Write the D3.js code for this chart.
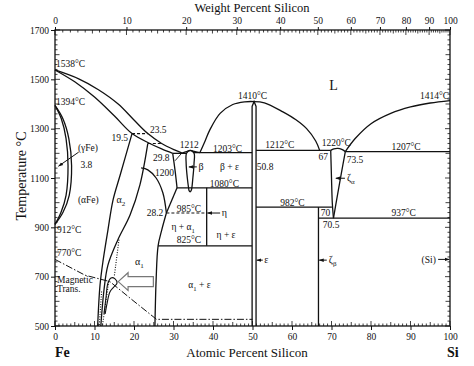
<!DOCTYPE html>
<html><head><meta charset="utf-8">
<script src="https://cdn.jsdelivr.net/npm/d3@7"></script>
<style>
body{margin:0;background:#fff;}
svg text{font-family:"Liberation Serif","Times New Roman",serif;fill:#111;}
</style></head><body>
<svg id="c" width="474" height="366"></svg>
<script>
// ---------- data (at% Si, °C) ----------
const atTicks = [0,10,20,30,40,50,60,70,80,90,100];
const wtTicks = [0,10,20,30,40,50,60,70,80,90,100];
const tempTicks = [500,700,900,1100,1300,1500,1700];

const liquidusFe = [[0,1538],[6,1502],[11,1458],[16,1400],[20,1335],[23.5,1280],[27,1240],[30.4,1213],[32.2,1201]];
const solidusFe = [[0,1538],[5,1490],[10,1428],[15,1352],[19.5,1280],[24,1240],[27,1218],[29.8,1200]];
const gammaOuter = [[0,1394],[2,1340],[3.5,1260],[4.2,1150],[3.6,1030],[2,960],[0,912]];
const gammaInner = [[0,1394],[1.6,1340],[2.8,1260],[3.3,1150],[2.8,1030],[1.5,960],[0,912]];
const boundaryA = [[19.5,1280],[16.5,1112],[14.7,1011],[13.4,889],[12.2,768],[11.4,666],[10.8,500]];
const boundaryB = [[23.5,1240],[21.5,1072],[19,950],[15.9,849],[13.4,747],[12.4,646],[11.6,500]];
const alpha1Dome = [[21.8,1141],[23.5,1133],[25.6,1100],[27.3,1040],[28.2,958]];
const alpha1Right = [[28.2,958],[27,888],[26.1,825],[25.6,686],[25.3,500]];
const alphaSolvus = [[29.8,1200],[30.4,1130],[30.9,1060]];
const alphaEta = [[30.9,1060],[28.2,958]];
const betaLens = [[33.9,1050],[33.5,1100],[33.2,1160],[33.3,1200],[34.2,1212],[35.2,1200],[35.2,1160],[34.9,1100],[34.5,1050],[34.2,1044],[33.9,1050]];
const liquidusBetaL = [[32.2,1201],[33.3,1207],[34.2,1212]];
const liquidusBetaR = [[34.2,1212],[35.5,1207],[36.7,1203]];
const liquidusEpsLeft = [[36.7,1203],[38,1250],[39.2,1295],[41.8,1362],[45,1398],[48,1409],[50.4,1410]];
const liquidusEpsRight = [[50.4,1410],[53,1405],[57.7,1368],[61,1336],[63.7,1300],[66,1250],[67,1212]];
const epsPhase = [[49.9,500],[49.9,1390],[50.4,1410],[50.9,1390],[50.9,500]];
const zetaAlphaLeft = [[69.8,1212],[70,1100],[70.2,1000],[70.5,937]];
const zetaAlphaRight = [[73.5,1207],[72.5,1120],[71.5,1030],[70.5,937]];
const zetaAlphaTop = [[69.8,1212],[70.6,1218],[71.6,1220],[72.6,1216],[73.5,1207]];
const liquidusSi = [[73.5,1207],[76,1260],[80,1320],[85,1362],[90,1388],[95,1404],[100,1414]];
const magnetic = [[0,770],[7.6,706],[13.9,680],[20,600],[25.7,527],[50,527]];
const miscLoop = [[12.4,549],[12.9,614],[13.4,674],[14.2,695],[15.2,691],[15.7,674],[14.9,658],[13.9,638],[13.2,593],[12.7,549]];
// isotherms: [T, from at%, to at%]
const solidIsotherms = [[1200,29.8,33.3],[1203,35.2,49.9],[1212,50.9,69.8],[1207,73.5,100],[1060,30.9,49.9],[825,26.1,49.9],[982,50.9,70.1],[937,66.7,100]];
const dashedIsotherms = [[1280,19.5,23.5],[1240,23.5,27],[958,28.2,38.4]];
// vertical phase lines: [at%, T from, T to]
const verticals = [[38.4,1060,825],[66.7,982,500]];
const dottedLines = [[[16.2,850],[15.0,700]],[[13.6,680],[12.0,500]],[[11.8,640],[11.2,500]]];
const openArrow = [[16,680],[18.5,716],[18.5,700],[24.9,700],[24.9,660],[18.5,660],[18.5,644]];
// small pointer arrows: [[tail],[tip]]
const pointers = [[[6,1205],[0.9,1148]],[[35.9,1145],[33.9,1145]],[[73.4,1099],[71.1,1099]],[[41.8,958],[38.6,958]],[[52.6,767],[51.1,767]],[[68.8,767],[66.9,767]],[[97,770],[99.8,770]]];
const leaders = [[[30.4,1170],[32.1,1201]]];

// annotations: text, sub, at%, °C, anchor, size
const annotations = [
 ["1538°C","",0.25,1552,"start",9.5],["1394°C","",0.25,1394,"start",9.5],
 ["(γFe)","",5.8,1211,"start",9.5],["3.8","",6.45,1139,"start",9.5],
 ["(αFe)","",5.8,997,"start",9.5],["912°C","",0.5,879,"start",9.5],
 ["770°C","",0.5,782,"start",9.5],["Magnetic","",0.5,676,"start",9.5],["Trans.","",0.5,639,"start",9.5],
 ["19.5","",18.5,1252,"end",9.5],["23.5","",24.05,1284,"start",9.5],
 ["29.8","",24.8,1167,"start",9.5],["1200","",25.3,1110,"start",9.5],
 ["1212","",31.6,1220,"start",9.5],["β","",36.3,1133,"start",10],
 ["1203°C","",40,1207,"start",9.5],["β + ε","",41.8,1132,"start",9.5],
 ["1080°C","",39.2,1065,"start",9.5],["1410°C","",46.3,1419,"start",9.5],
 ["1212°C","",53.2,1220,"start",9.5],["50.8","",51.1,1131,"start",9.5],
 ["67","",66.7,1173,"start",9.5],["982°C","",57,986,"start",9.5],
 ["70","",67.3,944,"start",9.5],["70.5","",67.8,896,"start",9.5],
 ["1220°C","",67.5,1230,"start",9.5],["73.5","",73.85,1160,"start",9.5],
 ["1207°C","",85.2,1213,"start",9.5],["ζ","α",73.9,1087,"start",10],
 ["937°C","",85.2,944,"start",9.5],["1414°C","",92.4,1419,"start",9.5],
 ["(Si)","",92.8,757,"start",9.5],["ζ","β",69.3,754,"start",10],
 ["ε","",53,755,"start",10],["η","",42.2,946,"start",10],
 ["η + ε","",40.9,855,"start",9.5],["η + α","1",29.5,889,"start",9.5],
 ["985°C","",30.8,964,"start",9.5],["825°C","",30.8,835,"start",9.5],
 ["28.2","",23.2,944,"start",9.5],["α","1",20.25,747,"start",10],
 ["α","1",33.75,653,"start",9.5,"ε"],["α","2",15.6,997,"start",10],
 ["L","",69.4,1457,"start",14]
];

// ---------- scales ----------
const FONT = "'Liberation Serif','Times New Roman',serif";
const svg = d3.select("#c");
const x = d3.scaleLinear().domain([0,100]).range([55,450]);
const y = d3.scaleLinear().domain([500,1700]).range([326,30]);
const wtToAt = w => { const a=w/28.0855, b=(100-w)/55.845; return 100*a/(a+b); };
const wtDom = d3.range(0,100.01,0.5);
const xWt = d3.scaleLinear().domain(wtDom).range(wtDom.map(w=>x(wtToAt(w))));
const fmt = d3.format("d");

svg.append("rect").attr("width",474).attr("height",366).attr("fill","#fff");

// ---------- axes ----------
const styleAxis = g => { g.attr("font-family",FONT); g.select(".domain").remove(); g.selectAll("line").attr("stroke","#111"); g.selectAll("text").attr("font-size",9.5).attr("font-family",FONT); };
svg.append("g").attr("transform",`translate(0,${y(500)})`)
  .call(d3.axisBottom(x).tickValues(atTicks).tickFormat(fmt).tickSizeInner(4).tickSizeOuter(0).tickPadding(3)).call(styleAxis);
svg.append("g").attr("transform",`translate(0,${y(1700)})`)
  .call(d3.axisTop(xWt).tickValues(wtTicks).tickFormat(fmt).tickSizeInner(3).tickSizeOuter(0).tickPadding(3)).call(styleAxis);
svg.append("g").attr("transform",`translate(${x(0)},0)`)
  .call(d3.axisLeft(y).tickValues(tempTicks).tickFormat(fmt).tickSizeInner(4).tickSizeOuter(0).tickPadding(2)).call(styleAxis);

const minor = svg.append("g").attr("stroke","#111").attr("stroke-width",0.8);
d3.range(0,101,1).forEach(v=>{
  const L = v%10===0?5:(v%5===0?4:2.5);
  minor.append("line").attr("x1",x(v)).attr("x2",x(v)).attr("y1",y(500)).attr("y2",y(500)-L);
});
d3.range(0,101,1).forEach(v=>{
  const L = v%10===0?5:(v%5===0?3.5:2.5);
  minor.append("line").attr("x1",xWt(v)).attr("x2",xWt(v)).attr("y1",y(1700)).attr("y2",y(1700)+L);
});
d3.range(500,1701,20).forEach(v=>{
  const L = v%200===100?5:(v%100===0?4.5:2.5);
  minor.append("line").attr("x1",x(0)).attr("x2",x(0)+L).attr("y1",y(v)).attr("y2",y(v));
  minor.append("line").attr("x1",x(100)).attr("x2",x(100)-L).attr("y1",y(v)).attr("y2",y(v));
});
svg.append("rect").attr("x",x(0)).attr("y",y(1700)).attr("width",x(100)-x(0)).attr("height",y(500)-y(1700))
  .attr("fill","none").attr("stroke","#111").attr("stroke-width",1.3);

// ---------- phase diagram lines ----------
const curve = d3.line().x(d=>x(d[0])).y(d=>y(d[1])).curve(d3.curveCatmullRom.alpha(0.5));
const straight = d3.line().x(d=>x(d[0])).y(d=>y(d[1]));
const G = svg.append("g").attr("fill","none").attr("stroke","#111").attr("stroke-width",1.3);
[liquidusFe,solidusFe,gammaOuter,gammaInner,boundaryA,boundaryB,alpha1Dome,alpha1Right,alphaSolvus,
 liquidusBetaL,liquidusBetaR,liquidusEpsLeft,liquidusEpsRight,zetaAlphaLeft,zetaAlphaRight,zetaAlphaTop,liquidusSi]
 .forEach(d=>G.append("path").attr("d",curve(d)));
G.append("path").attr("d",curve(betaLens));
G.append("path").attr("d",curve(miscLoop)).attr("stroke-width",1.1);
[alphaEta,epsPhase].forEach(d=>G.append("path").attr("d",straight(d)));
solidIsotherms.forEach(([T,a,b])=>G.append("path").attr("d",straight([[a,T],[b,T]])));
dashedIsotherms.forEach(([T,a,b])=>G.append("path").attr("d",straight([[a,T],[b,T]])).attr("stroke-dasharray","3,2").attr("stroke-width",1.1));
verticals.forEach(([a,t1,t2])=>G.append("path").attr("d",straight([[a,t1],[a,t2]])));
dottedLines.forEach(d=>G.append("path").attr("d",straight(d)).attr("stroke-dasharray","1,1.5").attr("stroke-width",1.1));
G.append("path").attr("d",straight(magnetic)).attr("stroke-dasharray","7,2,1.5,2").attr("stroke-width",1);
leaders.forEach(d=>G.append("path").attr("d",straight(d)).attr("stroke-width",0.9));
G.append("path").attr("d",straight(openArrow)+"Z").attr("stroke","#777").attr("stroke-width",1.2).attr("fill","#fff");

// pointer arrows
svg.append("defs").append("marker").attr("id","ah").attr("viewBox","0 0 10 10").attr("refX",9).attr("refY",5)
  .attr("markerWidth",5).attr("markerHeight",5).attr("orient","auto")
  .append("path").attr("d","M0,1.5L10,5L0,8.5Z").attr("fill","#111");
pointers.forEach(d=>G.append("path").attr("d",straight(d)).attr("stroke-width",1).attr("marker-end","url(#ah)"));

// ---------- text ----------
const T = svg.append("g").attr("font-family",FONT);
annotations.forEach(([t,sub,a,temp,anchor,size,after])=>{
  const el = T.append("text").attr("x",x(a)).attr("y",y(temp)).attr("text-anchor",anchor).attr("font-size",size).attr("font-family",FONT);
  el.append("tspan").text(t);
  if(sub){ el.append("tspan").attr("dy",2.5).attr("font-size",size*0.7).text(sub); }
  if(after){ el.append("tspan").attr("dy",sub?-2.5:0).text(" + "+after); }
});
T.append("text").attr("x",252).attr("y",12).attr("text-anchor","middle").attr("font-size",12.5).text("Weight Percent Silicon");
T.append("text").attr("x",247).attr("y",357).attr("text-anchor","middle").attr("font-size",13).text("Atomic Percent Silicon");
T.append("text").attr("transform","translate(26,176) rotate(-90)").attr("text-anchor","middle").attr("font-size",14).text("Temperature °C");
T.append("text").attr("x",x(0)).attr("y",357).attr("font-size",14).attr("font-weight","bold").text("Fe");
T.append("text").attr("x",x(100)-3).attr("y",357).attr("font-size",14).attr("font-weight","bold").text("Si");
</script></body></html>
